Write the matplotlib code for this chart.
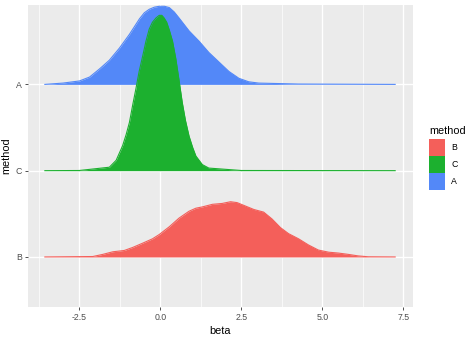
import numpy as np
import matplotlib
matplotlib.use("Agg")
import matplotlib.pyplot as plt
from matplotlib.patches import Rectangle

plt.rcParams['font.family'] = ['Liberation Sans', 'DejaVu Sans']

# factor levels, bottom to top
methods = ['B', 'C', 'A']
colors = {'B': '#F45F5A', 'C': '#1CB02F', 'A': '#5388F8'}

# ridge heights (in units of one row)
beta_A = [-3.56, -3.0, -2.49, -2.18, -1.87, -1.57, -1.26, -0.95, -0.64, -0.49, -0.34,
          -0.18, -0.03, 0.13, 0.28, 0.43, 0.58, 0.89, 1.2, 1.5, 1.81, 2.12, 2.43,
          2.73, 3.04, 4.27, 7.25]
height_A = [0.0, 0.015, 0.04, 0.085, 0.18, 0.28, 0.42, 0.58, 0.76, 0.83, 0.87,
            0.895, 0.905, 0.905, 0.89, 0.84, 0.77, 0.62, 0.5, 0.37, 0.26, 0.15, 0.07,
            0.03, 0.015, 0.004, 0.0]

beta_C = [-3.56, -2.5, -1.57, -1.36, -1.16, -1.05, -0.95, -0.85, -0.75, -0.65, -0.54,
          -0.44, -0.34, -0.24, -0.13, -0.03, 0.05, 0.12, 0.2, 0.28, 0.38, 0.48, 0.58,
          0.68, 0.78, 0.89, 1.0, 1.10, 1.30, 1.50, 2.5, 7.25]
height_C = [0.0, 0.002, 0.04, 0.12, 0.29, 0.42, 0.56, 0.76, 0.95, 1.15, 1.33,
            1.50, 1.64, 1.72, 1.77, 1.80, 1.80, 1.77, 1.72, 1.63, 1.50, 1.30, 1.05,
            0.79, 0.58, 0.40, 0.27, 0.17, 0.07, 0.03, 0.002, 0.0]

beta_B = [-3.56, -2.08, -1.77, -1.46, -1.11, -0.85, -0.54, -0.24, -0.03, 0.28, 0.58,
          0.89, 1.10, 1.30, 1.61, 1.91, 2.17, 2.37, 2.63, 2.89, 3.19, 3.45, 3.71,
          3.96, 4.27, 4.57, 4.88, 5.20, 5.50, 5.80, 6.11, 6.42, 7.25]
height_B = [0.0, 0.005, 0.03, 0.06, 0.075, 0.11, 0.16, 0.21, 0.26, 0.35, 0.45,
            0.53, 0.565, 0.58, 0.61, 0.62, 0.64, 0.63, 0.59, 0.55, 0.52, 0.44, 0.34,
            0.27, 0.21, 0.14, 0.08, 0.055, 0.045, 0.03, 0.012, 0.002, 0.0]

ridges = {'A': (beta_A, height_A), 'C': (beta_C, height_C), 'B': (beta_B, height_B)}

x_ticks = [-2.5, 0.0, 2.5, 5.0, 7.5]
x_minor = [-3.75, -1.25, 1.25, 3.75, 6.25]

W, H = 474, 338
fig = plt.figure(figsize=(W / 100, H / 100), dpi=100)
ax = fig.add_axes([28 / W, 1 - 307 / H, (413 - 28) / W, (307 - 5) / H])
ax.set_facecolor('#EBEBEB')
for s in ax.spines.values():
    s.set_visible(False)

for xm in x_minor:
    ax.axvline(xm, color='white', lw=0.5, zorder=0)
for xt in x_ticks:
    ax.axvline(xt, color='white', lw=1.0, zorder=0)
for i in range(len(methods)):
    ax.axhline(i + 1, color='white', lw=1.0, zorder=0)

# draw top row first so lower ridges overlap it
for i in reversed(range(len(methods))):
    m = methods[i]
    xs, hs = ridges[m]
    base = i + 1
    top = base + np.array(hs)
    ax.fill_between(xs, base, top, color=colors[m], lw=0, zorder=2 + (3 - i))
    ax.plot(xs, top, color=colors[m], lw=0.8, zorder=2 + (3 - i))

ax.set_xlim(-4.08, 7.80)
ax.set_ylim(0.42, 3.92)
ax.set_xticks(x_ticks)
ax.set_xticklabels(['-2.5', '0.0', '2.5', '5.0', '7.5'])
ax.set_yticks([1, 2, 3])
ax.set_yticklabels(methods)
ax.tick_params(length=2.5, width=0.6, color='#333333', labelcolor='#4D4D4D',
               labelsize=6.3, pad=2)
ax.set_xlabel('beta', fontsize=7.8, labelpad=3)
ax.set_ylabel('method', fontsize=7.8, labelpad=3)

# legend
def px(x, y):
    return x / W, 1 - y / H

fig.text(*px(429, 131), 'method', fontsize=7.8, va='center', ha='left')
for k, m in enumerate(methods):
    y0 = 139 + k * 17
    xk, yk = px(429, y0 + 17)
    fig.patches.append(Rectangle((xk, yk), 16 / W, 17 / H, transform=fig.transFigure,
                                 facecolor=colors[m], edgecolor='none'))
    fig.text(*px(451, y0 + 8.5), m, fontsize=6.3, va='center', ha='left')

fig.savefig('out.png', dpi=100)
